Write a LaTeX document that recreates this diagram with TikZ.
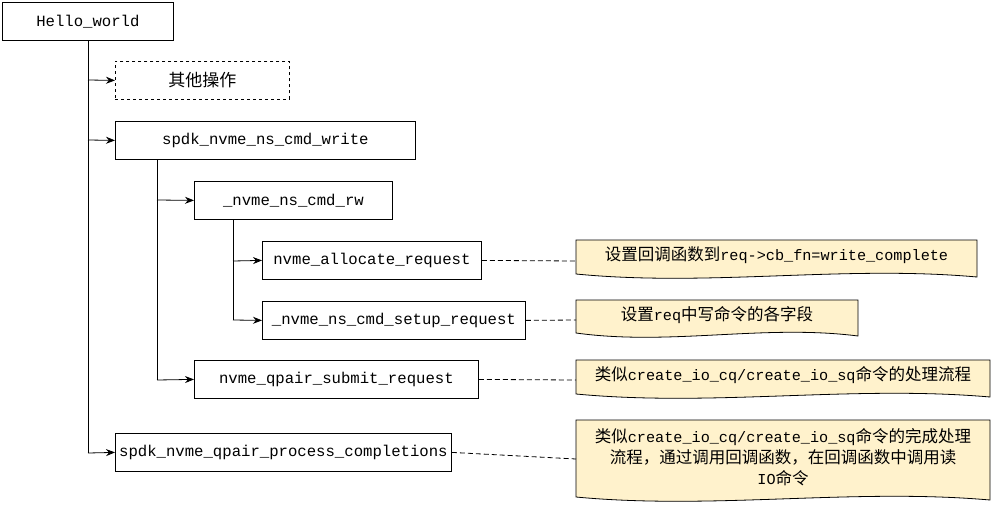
\documentclass[tikz,border=0pt]{standalone}
\usepackage{fontspec}
\setmainfont{Noto Sans CJK SC}
\setmonofont{Liberation Mono}[Scale=0.92]
\usetikzlibrary{arrows.meta}
\definecolor{notefill}{HTML}{FFF2CC}
\begin{document}
\begin{tikzpicture}[x=1pt,y=-1pt,
  box/.style={draw,thick,minimum height=38pt,inner sep=0pt,font=\fontsize{17}{19}\selectfont\ttfamily},
  arr/.style={thick,-{Stealth[length=9pt,width=7pt]}},
  link/.style={thick,dash pattern=on 5pt off 3pt},
  note/.style={draw,thick,fill=notefill}]
\useasboundingbox (0,0) rectangle (993,506);
\newcommand\boxat[6]{\node[box,#6,minimum width=#4-#2,anchor=north west] (#1) at (#2,#3) {#5};}
\boxat{hw}{2}{2}{173}{Hello\_world}{}
\boxat{other}{115}{61}{289}{\rmfamily 其他操作}{dashed}
\boxat{write}{115}{121}{415}{spdk\_nvme\_ns\_cmd\_write}{}
\boxat{rw}{194}{181}{392}{\_nvme\_ns\_cmd\_rw}{}
\boxat{alloc}{262}{241}{481}{nvme\_allocate\_request}{}
\boxat{setup}{262}{301}{525}{\_nvme\_ns\_cmd\_setup\_request}{}
\boxat{submit}{194}{360}{478}{nvme\_qpair\_submit\_request}{}
\boxat{proc}{115}{433}{451}{spdk\_nvme\_qpair\_process\_completions}{}
% trees
\draw[thick] (hw.south -| 88,0) -- (88,453);
\draw[arr] (88,80) -- (other.west);
\draw[arr] (88,140) -- (write.west);
\draw[arr] (88,453) -- (proc.west);
\draw[thick] (157,159) -- (157,380);
\draw[arr] (157,200) -- (rw.west);
\draw[arr] (157,380) -- (submit.west);
\draw[thick] (233,219) -- (233,320);
\draw[arr] (233,261) -- (alloc.west);
\draw[arr] (233,320) -- (setup.west);
% notes
\newcommand\noteat[6]{%
  \draw[note] (#2,#3) -- (#4,#3) -- (#4,#5) .. controls ({#4-(#4-#2)/3},{#5-12}) and ({#2+(#4-#2)/3},{#5+10}) .. (#2,{#5-3}) -- cycle;
  \node[align=center,font=\fontsize{16.5}{21}\selectfont,inner sep=0pt] (#1) at ({(#2+#4)/2},{(#3+#5)/2-3}) {#6};}
\noteat{n1}{576}{240}{977}{277}{设置回调函数到\texttt{req->cb\_fn=write\_complete}}
\noteat{n2}{576}{300}{858}{336}{设置\texttt{req}中写命令的各字段}
\noteat{n3}{576}{360}{990}{397}{类似\texttt{create\_io\_cq/create\_io\_sq}命令的处理流程}
\noteat{n4}{576}{420}{990}{500}{类似\texttt{create\_io\_cq/create\_io\_sq}命令的完成处理\\流程，通过调用回调函数，在回调函数中调用读\\\texttt{IO}命令}
\draw[link] (alloc.east) -- (576,261);
\draw[link] (setup.east) -- (576,320);
\draw[link] (submit.east) -- (576,380);
\draw[link] (proc.east) -- (576,459);
\end{tikzpicture}
\end{document}
